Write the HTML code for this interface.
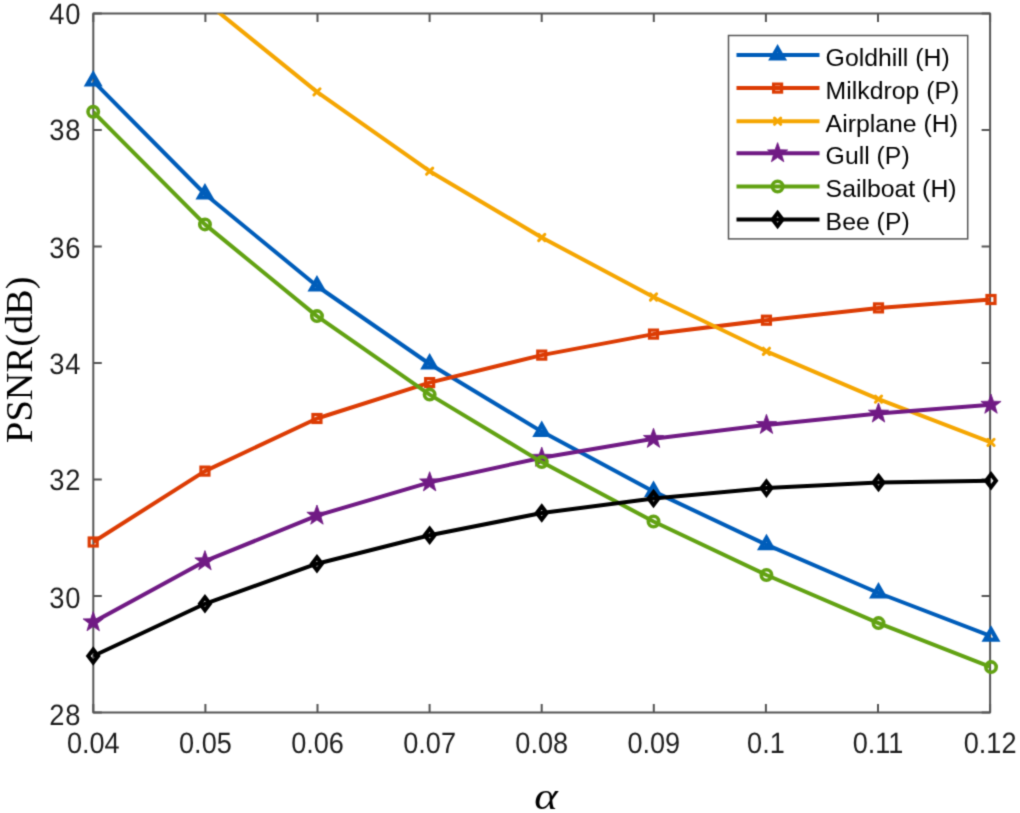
<!DOCTYPE html><html><head><meta charset="utf-8"><style>html,body{margin:0;padding:0;background:#fff;}svg{display:block;}#w{width:1020px;height:813px;}text{font-family:"Liberation Sans",Arial,sans-serif;}.sr{font-family:"Liberation Serif","Times New Roman",serif;}</style></head><body>
<div id="w">
<svg width="1020" height="813" viewBox="0 0 1020 813">
<rect width="1020" height="813" fill="#fff"/>
<defs><filter id="bl" x="-2%" y="-2%" width="104%" height="104%" color-interpolation-filters="sRGB"><feConvolveMatrix order="3" kernelMatrix="0.02768 0.11101 0.02768 0.11101 0.44521 0.11101 0.02768 0.11101 0.02768" divisor="1" edgeMode="duplicate" preserveAlpha="false"/></filter><clipPath id="cp"><rect x="93.3" y="13.4" width="896.8" height="699"/></clipPath></defs>
<g filter="url(#bl)">
<rect width="1020" height="813" fill="#fff"/>
<path d="M93.3 712.4V703.9M93.3 13.4V21.9M205.4 712.4V703.9M205.4 13.4V21.9M317.5 712.4V703.9M317.5 13.4V21.9M429.6 712.4V703.9M429.6 13.4V21.9M541.7 712.4V703.9M541.7 13.4V21.9M653.8 712.4V703.9M653.8 13.4V21.9M765.9 712.4V703.9M765.9 13.4V21.9M878 712.4V703.9M878 13.4V21.9M990.1 712.4V703.9M990.1 13.4V21.9M93.3 712.4H101.8M990.1 712.4H981.6M93.3 595.9H101.8M990.1 595.9H981.6M93.3 479.4H101.8M990.1 479.4H981.6M93.3 362.9H101.8M990.1 362.9H981.6M93.3 246.4H101.8M990.1 246.4H981.6M93.3 129.9H101.8M990.1 129.9H981.6M93.3 13.4H101.8M990.1 13.4H981.6" stroke="#555555" stroke-width="2" fill="none"/>
<rect x="93.3" y="13.4" width="896.8" height="699" fill="none" stroke="#555555" stroke-width="2" stroke-linejoin="round"/>
<text transform="translate(93.3 753.3) scale(0.922 1)" text-anchor="middle" font-size="29.4" fill="#1c1c1c" text-rendering="geometricPrecision">0.04</text>
<text transform="translate(205.4 753.3) scale(0.922 1)" text-anchor="middle" font-size="29.4" fill="#1c1c1c" text-rendering="geometricPrecision">0.05</text>
<text transform="translate(317.5 753.3) scale(0.922 1)" text-anchor="middle" font-size="29.4" fill="#1c1c1c" text-rendering="geometricPrecision">0.06</text>
<text transform="translate(429.6 753.3) scale(0.922 1)" text-anchor="middle" font-size="29.4" fill="#1c1c1c" text-rendering="geometricPrecision">0.07</text>
<text transform="translate(541.7 753.3) scale(0.922 1)" text-anchor="middle" font-size="29.4" fill="#1c1c1c" text-rendering="geometricPrecision">0.08</text>
<text transform="translate(653.8 753.3) scale(0.922 1)" text-anchor="middle" font-size="29.4" fill="#1c1c1c" text-rendering="geometricPrecision">0.09</text>
<text transform="translate(765.9 753.3) scale(0.922 1)" text-anchor="middle" font-size="29.4" fill="#1c1c1c" text-rendering="geometricPrecision">0.1</text>
<text transform="translate(878 753.3) scale(0.922 1)" text-anchor="middle" font-size="29.4" fill="#1c1c1c" text-rendering="geometricPrecision">0.11</text>
<text transform="translate(990.1 753.3) scale(0.922 1)" text-anchor="middle" font-size="29.4" fill="#1c1c1c" text-rendering="geometricPrecision">0.12</text>
<text transform="translate(80.9 724.55) scale(0.93 1)" text-anchor="end" font-size="29.4" fill="#1c1c1c" letter-spacing="0.6" text-rendering="geometricPrecision">28</text>
<text transform="translate(80.9 608.2) scale(0.93 1)" text-anchor="end" font-size="29.4" fill="#1c1c1c" letter-spacing="0.6" text-rendering="geometricPrecision">30</text>
<text transform="translate(80.9 490.25) scale(0.93 1)" text-anchor="end" font-size="29.4" fill="#1c1c1c" letter-spacing="0.6" text-rendering="geometricPrecision">32</text>
<text transform="translate(80.9 374.15) scale(0.93 1)" text-anchor="end" font-size="29.4" fill="#1c1c1c" letter-spacing="0.6" text-rendering="geometricPrecision">34</text>
<text transform="translate(80.9 257.65) scale(0.93 1)" text-anchor="end" font-size="29.4" fill="#1c1c1c" letter-spacing="0.6" text-rendering="geometricPrecision">36</text>
<text transform="translate(80.9 139.95) scale(0.93 1)" text-anchor="end" font-size="29.4" fill="#1c1c1c" letter-spacing="0.6" text-rendering="geometricPrecision">38</text>
<text transform="translate(80.9 23.9) scale(0.93 1)" text-anchor="end" font-size="29.4" fill="#1c1c1c" letter-spacing="0.6" text-rendering="geometricPrecision">40</text>
<polyline points="93.2,81.1 204.95,194 316.95,286 429.65,364 541.75,431.6 653.5,491.4 766.45,544.7 878.5,593 991,636.2" fill="none" stroke="#005DBA" stroke-width="4.0" stroke-linejoin="round" clip-path="url(#cp)"/>
<path d="M93.2 74.3L99.05 84.5L87.35 84.5Z" fill="none" stroke="#005DBA" stroke-width="4.2" stroke-linejoin="miter" stroke-miterlimit="6"/>
<path d="M204.95 187.2L210.8 197.4L199.1 197.4Z" fill="none" stroke="#005DBA" stroke-width="4.2" stroke-linejoin="miter" stroke-miterlimit="6"/>
<path d="M316.95 279.2L322.8 289.4L311.1 289.4Z" fill="none" stroke="#005DBA" stroke-width="4.2" stroke-linejoin="miter" stroke-miterlimit="6"/>
<path d="M429.65 357.2L435.5 367.4L423.8 367.4Z" fill="none" stroke="#005DBA" stroke-width="4.2" stroke-linejoin="miter" stroke-miterlimit="6"/>
<path d="M541.75 424.8L547.6 435L535.9 435Z" fill="none" stroke="#005DBA" stroke-width="4.2" stroke-linejoin="miter" stroke-miterlimit="6"/>
<path d="M653.5 484.6L659.35 494.8L647.65 494.8Z" fill="none" stroke="#005DBA" stroke-width="4.2" stroke-linejoin="miter" stroke-miterlimit="6"/>
<path d="M766.45 537.9L772.3 548.1L760.6 548.1Z" fill="none" stroke="#005DBA" stroke-width="4.2" stroke-linejoin="miter" stroke-miterlimit="6"/>
<path d="M878.5 586.2L884.35 596.4L872.65 596.4Z" fill="none" stroke="#005DBA" stroke-width="4.2" stroke-linejoin="miter" stroke-miterlimit="6"/>
<path d="M991 629.4L996.85 639.6L985.15 639.6Z" fill="none" stroke="#005DBA" stroke-width="4.2" stroke-linejoin="miter" stroke-miterlimit="6"/>
<polyline points="93.2,542 204.95,471.1 316.95,418.5 429.65,382.6 541.75,355.1 653.5,334.1 766.45,320.2 878.5,307.9 991,299.5" fill="none" stroke="#DC3C04" stroke-width="4.0" stroke-linejoin="round" clip-path="url(#cp)"/>
<rect x="89.2" y="538" width="8" height="8" fill="none" stroke="#DC3C04" stroke-width="3.2"/>
<rect x="200.95" y="467.1" width="8" height="8" fill="none" stroke="#DC3C04" stroke-width="3.2"/>
<rect x="312.95" y="414.5" width="8" height="8" fill="none" stroke="#DC3C04" stroke-width="3.2"/>
<rect x="425.65" y="378.6" width="8" height="8" fill="none" stroke="#DC3C04" stroke-width="3.2"/>
<rect x="537.75" y="351.1" width="8" height="8" fill="none" stroke="#DC3C04" stroke-width="3.2"/>
<rect x="649.5" y="330.1" width="8" height="8" fill="none" stroke="#DC3C04" stroke-width="3.2"/>
<rect x="762.45" y="316.2" width="8" height="8" fill="none" stroke="#DC3C04" stroke-width="3.2"/>
<rect x="874.5" y="303.9" width="8" height="8" fill="none" stroke="#DC3C04" stroke-width="3.2"/>
<rect x="987" y="295.5" width="8" height="8" fill="none" stroke="#DC3C04" stroke-width="3.2"/>
<polyline points="93.2,-100 204.95,1.2 316.95,91.9 429.65,171.2 541.75,237.5 653.5,297 766.45,351.3 878.5,399.1 991,442.4" fill="none" stroke="#F5A602" stroke-width="4.0" stroke-linejoin="round" clip-path="url(#cp)"/>
<path d="M313.85 88.8L320.05 95M313.85 95L320.05 88.8" stroke="#F5A602" stroke-width="3" stroke-linecap="round"/>
<path d="M426.55 168.1L432.75 174.3M426.55 174.3L432.75 168.1" stroke="#F5A602" stroke-width="3" stroke-linecap="round"/>
<path d="M538.65 234.4L544.85 240.6M538.65 240.6L544.85 234.4" stroke="#F5A602" stroke-width="3" stroke-linecap="round"/>
<path d="M650.4 293.9L656.6 300.1M650.4 300.1L656.6 293.9" stroke="#F5A602" stroke-width="3" stroke-linecap="round"/>
<path d="M763.35 348.2L769.55 354.4M763.35 354.4L769.55 348.2" stroke="#F5A602" stroke-width="3" stroke-linecap="round"/>
<path d="M875.4 396L881.6 402.2M875.4 402.2L881.6 396" stroke="#F5A602" stroke-width="3" stroke-linecap="round"/>
<path d="M987.9 439.3L994.1 445.5M987.9 445.5L994.1 439.3" stroke="#F5A602" stroke-width="3" stroke-linecap="round"/>
<polyline points="93.2,622.2 204.95,561.2 316.95,515.6 429.65,482.3 541.75,457.7 653.5,438.8 766.45,424.9 878.5,413.5 991,404.7" fill="none" stroke="#701A84" stroke-width="4.0" stroke-linejoin="round" clip-path="url(#cp)"/>
<path d="M93.2 611.6L95.73 618.72L103.28 618.92L97.29 623.53L99.43 630.78L93.2 626.5L86.97 630.78L89.11 623.53L83.12 618.92L90.67 618.72Z" fill="#701A84" stroke="#701A84" stroke-width="0.8" stroke-linejoin="round"/>
<path d="M204.95 550.6L207.48 557.72L215.03 557.92L209.04 562.53L211.18 569.78L204.95 565.5L198.72 569.78L200.86 562.53L194.87 557.92L202.42 557.72Z" fill="#701A84" stroke="#701A84" stroke-width="0.8" stroke-linejoin="round"/>
<path d="M316.95 505L319.48 512.12L327.03 512.32L321.04 516.93L323.18 524.18L316.95 519.9L310.72 524.18L312.86 516.93L306.87 512.32L314.42 512.12Z" fill="#701A84" stroke="#701A84" stroke-width="0.8" stroke-linejoin="round"/>
<path d="M429.65 471.7L432.18 478.82L439.73 479.02L433.74 483.63L435.88 490.88L429.65 486.6L423.42 490.88L425.56 483.63L419.57 479.02L427.12 478.82Z" fill="#701A84" stroke="#701A84" stroke-width="0.8" stroke-linejoin="round"/>
<path d="M541.75 447.1L544.28 454.22L551.83 454.42L545.84 459.03L547.98 466.28L541.75 462L535.52 466.28L537.66 459.03L531.67 454.42L539.22 454.22Z" fill="#701A84" stroke="#701A84" stroke-width="0.8" stroke-linejoin="round"/>
<path d="M653.5 428.2L656.03 435.32L663.58 435.52L657.59 440.13L659.73 447.38L653.5 443.1L647.27 447.38L649.41 440.13L643.42 435.52L650.97 435.32Z" fill="#701A84" stroke="#701A84" stroke-width="0.8" stroke-linejoin="round"/>
<path d="M766.45 414.3L768.98 421.42L776.53 421.62L770.54 426.23L772.68 433.48L766.45 429.2L760.22 433.48L762.36 426.23L756.37 421.62L763.92 421.42Z" fill="#701A84" stroke="#701A84" stroke-width="0.8" stroke-linejoin="round"/>
<path d="M878.5 402.9L881.03 410.02L888.58 410.22L882.59 414.83L884.73 422.08L878.5 417.8L872.27 422.08L874.41 414.83L868.42 410.22L875.97 410.02Z" fill="#701A84" stroke="#701A84" stroke-width="0.8" stroke-linejoin="round"/>
<path d="M991 394.1L993.53 401.22L1001.08 401.42L995.09 406.03L997.23 413.28L991 409L984.77 413.28L986.91 406.03L980.92 401.42L988.47 401.22Z" fill="#701A84" stroke="#701A84" stroke-width="0.8" stroke-linejoin="round"/>
<polyline points="93.2,111.8 204.95,224.4 316.95,316.1 429.65,394.6 541.75,462.1 653.5,521.5 766.45,575 878.5,623.1 991,667.1" fill="none" stroke="#62A213" stroke-width="4.0" stroke-linejoin="round" clip-path="url(#cp)"/>
<circle cx="93.2" cy="111.8" r="5.2" fill="none" stroke="#62A213" stroke-width="3.6"/>
<circle cx="204.95" cy="224.4" r="5.2" fill="none" stroke="#62A213" stroke-width="3.6"/>
<circle cx="316.95" cy="316.1" r="5.2" fill="none" stroke="#62A213" stroke-width="3.6"/>
<circle cx="429.65" cy="394.6" r="5.2" fill="none" stroke="#62A213" stroke-width="3.6"/>
<circle cx="541.75" cy="462.1" r="5.2" fill="none" stroke="#62A213" stroke-width="3.6"/>
<circle cx="653.5" cy="521.5" r="5.2" fill="none" stroke="#62A213" stroke-width="3.6"/>
<circle cx="766.45" cy="575" r="5.2" fill="none" stroke="#62A213" stroke-width="3.6"/>
<circle cx="878.5" cy="623.1" r="5.2" fill="none" stroke="#62A213" stroke-width="3.6"/>
<circle cx="991" cy="667.1" r="5.2" fill="none" stroke="#62A213" stroke-width="3.6"/>
<polyline points="93.2,656 204.95,603.8 316.95,563.7 429.65,535.3 541.75,513 653.5,498.5 766.45,488.1 878.5,482.5 991,480.8" fill="none" stroke="#000000" stroke-width="4.0" stroke-linejoin="round" clip-path="url(#cp)"/>
<path d="M93.2 649.5L98.15 656L93.2 662.5L88.25 656Z" fill="none" stroke="#000000" stroke-width="4" stroke-miterlimit="10"/>
<path d="M204.95 597.3L209.9 603.8L204.95 610.3L200 603.8Z" fill="none" stroke="#000000" stroke-width="4" stroke-miterlimit="10"/>
<path d="M316.95 557.2L321.9 563.7L316.95 570.2L312 563.7Z" fill="none" stroke="#000000" stroke-width="4" stroke-miterlimit="10"/>
<path d="M429.65 528.8L434.6 535.3L429.65 541.8L424.7 535.3Z" fill="none" stroke="#000000" stroke-width="4" stroke-miterlimit="10"/>
<path d="M541.75 506.5L546.7 513L541.75 519.5L536.8 513Z" fill="none" stroke="#000000" stroke-width="4" stroke-miterlimit="10"/>
<path d="M653.5 492L658.45 498.5L653.5 505L648.55 498.5Z" fill="none" stroke="#000000" stroke-width="4" stroke-miterlimit="10"/>
<path d="M766.45 481.6L771.4 488.1L766.45 494.6L761.5 488.1Z" fill="none" stroke="#000000" stroke-width="4" stroke-miterlimit="10"/>
<path d="M878.5 476L883.45 482.5L878.5 489L873.55 482.5Z" fill="none" stroke="#000000" stroke-width="4" stroke-miterlimit="10"/>
<path d="M991 474.3L995.95 480.8L991 487.3L986.05 480.8Z" fill="none" stroke="#000000" stroke-width="4" stroke-miterlimit="10"/>
<rect x="728.5" y="35.5" width="239.2" height="203.4" fill="#fff" stroke="#555555" stroke-width="1.5"/>
<path d="M736.5 55H819.5" stroke="#005DBA" stroke-width="4.0"/>
<path d="M777.6 48.2L783.45 58.4L771.75 58.4Z" fill="none" stroke="#005DBA" stroke-width="4.2" stroke-linejoin="miter" stroke-miterlimit="6"/>
<text transform="translate(825.6 65.8) scale(1.043 1)" font-size="23.8" fill="#000">Goldhill (H)</text>
<path d="M736.5 88.1H819.5" stroke="#DC3C04" stroke-width="4.0"/>
<rect x="773.6" y="84.1" width="8" height="8" fill="none" stroke="#DC3C04" stroke-width="3.2"/>
<text transform="translate(825.6 98.9) scale(1.043 1)" font-size="23.8" fill="#000">Milkdrop (P)</text>
<path d="M736.5 121.2H819.5" stroke="#F5A602" stroke-width="4.0"/>
<path d="M774.5 118.1L780.7 124.3M774.5 124.3L780.7 118.1" stroke="#F5A602" stroke-width="3" stroke-linecap="round"/>
<text transform="translate(825.6 132) scale(1.043 1)" font-size="23.8" fill="#000">Airplane (H)</text>
<path d="M736.5 153.2H819.5" stroke="#701A84" stroke-width="4.0"/>
<path d="M777.6 142.6L780.13 149.72L787.68 149.92L781.69 154.53L783.83 161.78L777.6 157.5L771.37 161.78L773.51 154.53L767.52 149.92L775.07 149.72Z" fill="#701A84" stroke="#701A84" stroke-width="0.8" stroke-linejoin="round"/>
<text transform="translate(825.6 164) scale(1.043 1)" font-size="23.8" fill="#000">Gull (P)</text>
<path d="M736.5 186.5H819.5" stroke="#62A213" stroke-width="4.0"/>
<circle cx="777.6" cy="186.5" r="5.2" fill="none" stroke="#62A213" stroke-width="3.6"/>
<text transform="translate(825.6 197.3) scale(1.043 1)" font-size="23.8" fill="#000">Sailboat (H)</text>
<path d="M736.5 219.5H819.5" stroke="#000000" stroke-width="4.0"/>
<path d="M777.6 213L782.55 219.5L777.6 226L772.65 219.5Z" fill="none" stroke="#000000" stroke-width="4" stroke-miterlimit="10"/>
<text transform="translate(825.6 230.3) scale(1.043 1)" font-size="23.8" fill="#000">Bee (P)</text>
<text class="sr" transform="translate(32 359.7) rotate(-90)" text-anchor="middle" font-size="38.4" fill="#000">PSNR(dB)</text>
<text class="sr" transform="translate(546 808.9) scale(1.18 1)" text-anchor="middle" font-size="38" font-style="italic" fill="#000">α</text>
</g></svg></div></body></html>
